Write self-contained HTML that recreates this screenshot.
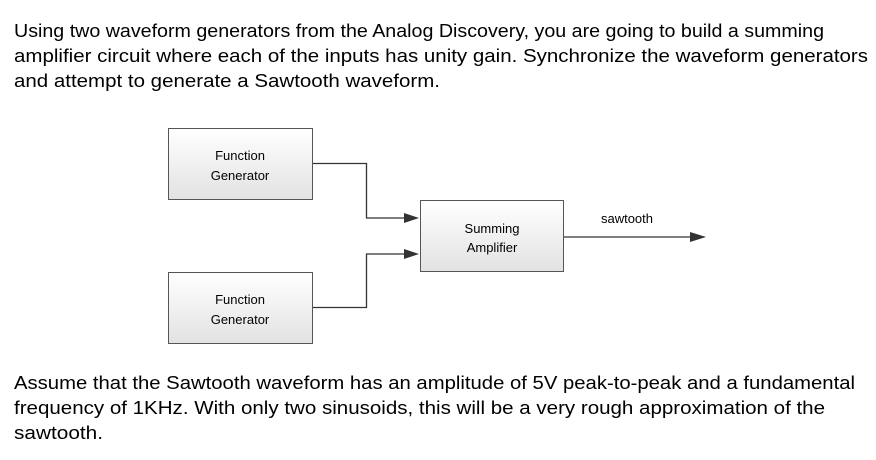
<!DOCTYPE html>
<html><head><style>
html,body{margin:0;padding:0;background:#fff;}
svg{display:block;}
text{font-family:"Liberation Sans",sans-serif;fill:#000;}
</style></head><body>
<svg width="876" height="460" viewBox="0 0 876 460" xmlns="http://www.w3.org/2000/svg">
<defs>
<linearGradient id="g" x1="0" y1="0" x2="0" y2="1">
<stop offset="0" stop-color="#ffffff"/><stop offset="1" stop-color="#e2e2e2"/>
</linearGradient>
</defs>
<g font-size="18">
<text x="14" y="37" textLength="810" lengthAdjust="spacingAndGlyphs">Using two waveform generators from the Analog Discovery, you are going to build a summing</text>
<text x="14" y="62" textLength="854" lengthAdjust="spacingAndGlyphs">amplifier circuit where each of the inputs has unity gain.  Synchronize the waveform generators</text>
<text x="14" y="87" textLength="426" lengthAdjust="spacingAndGlyphs">and attempt to generate a Sawtooth waveform.</text>
<text x="14" y="389" textLength="841" lengthAdjust="spacingAndGlyphs">Assume that the Sawtooth waveform has an amplitude of 5V peak-to-peak and a fundamental</text>
<text x="14" y="414" textLength="811" lengthAdjust="spacingAndGlyphs">frequency of 1KHz.  With only two sinusoids, this will be a very rough approximation of the</text>
<text x="14" y="439" textLength="89" lengthAdjust="spacingAndGlyphs">sawtooth.</text>
</g>
<g stroke="#555" stroke-width="1" fill="url(#g)">
<rect x="168.5" y="128.5" width="144" height="71"/>
<rect x="168.5" y="272.5" width="144" height="71"/>
<rect x="420.5" y="200.5" width="143" height="71"/>
</g>
<g stroke="#333" stroke-width="1.3" fill="none">
<polyline points="313,163.5 366.5,163.5 366.5,218 406,218"/>
<polyline points="313,307.5 366.5,307.5 366.5,254 406,254"/>
<line x1="564" y1="237" x2="692" y2="237"/>
</g>
<g fill="#333">
<polygon points="404,213 419,218 404,223"/>
<polygon points="404,249 419,254 404,259"/>
<polygon points="690,232 706,237 690,242"/>
</g>
<g font-size="13" text-anchor="middle">
<text x="240" y="160">Function</text>
<text x="240" y="180">Generator</text>
<text x="240" y="304">Function</text>
<text x="240" y="324">Generator</text>
<text x="492" y="233">Summing</text>
<text x="492" y="252">Amplifier</text>
<text x="627" y="223">sawtooth</text>
</g>
</svg>
</body></html>
